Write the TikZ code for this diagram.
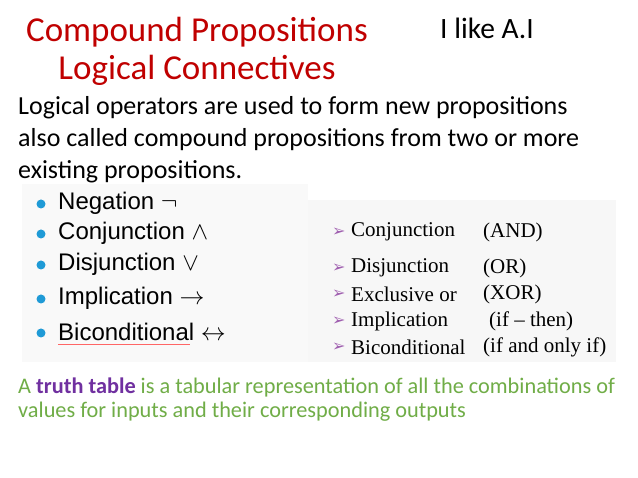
\documentclass[tikz,border=0pt]{standalone}
\usepackage{fontspec}
\setmainfont{Carlito}
\newfontfamily\arialf{Liberation Sans}
\newfontfamily\timesf{Liberation Serif}
\newfontfamily\dejavuf{DejaVu Sans}
\definecolor{tred}{HTML}{C00000}
\definecolor{tgreen}{HTML}{70AD47}
\definecolor{tpurple}{HTML}{7030A0}
\definecolor{bdot}{HTML}{1F9AD6}
\definecolor{arr}{HTML}{A060B0}
\begin{document}
\begin{tikzpicture}[x=1pt,y=-1pt,
 ttl/.style={text=tred,font=\fontsize{35}{37}\selectfont},
 body/.style={anchor=west,inner sep=0,font=\fontsize{26}{28}\selectfont},
 bul/.style={anchor=west,inner sep=0,font=\arialf\fontsize{24}{26}\selectfont},
 rt/.style={anchor=west,inner sep=0,font=\timesf\fontsize{21}{23}\selectfont},
 gr/.style={anchor=west,inner sep=0,text=tgreen,font=\fontsize{22.3}{24}\selectfont}]
\useasboundingbox (0,0) rectangle (638,478);
\fill[white] (0,0) rectangle (638,478);
\fill[gray!5] (22,184) rectangle (308,362);
\fill[gray!6] (308,200) rectangle (616,362);
\node[ttl] (t1) at (197,32) {Compound Propositions};
\node[ttl] (t2) at (197,70) {Logical Connectives};
\node[font=\fontsize{29.5}{31}\selectfont] (ai) at (487,28) {I like A.I};
\node[body] (b1) at (18,108) {Logical operators are used to form new propositions};
\node[body] (b2) at (18,140) {also called compound propositions from two or more};
\node[body] (b3) at (18,172) {existing propositions.};
\foreach \y/\t [count=\i] in {203/{Negation $\neg$},233/{Conjunction $\wedge$},264/{Disjunction $\vee$},298/{Implication $\rightarrow$},332/{Biconditional $\leftrightarrow$}}{
 \fill[bdot] (41,\y+1) circle (4.5);
 \node[bul] (l\i) at (58,\y) {\t};
}
\draw[red!60,line width=0.6pt] (58,344) -- (190,344);
\foreach \y/\a/\b/\bx [count=\i] in {232/Conjunction/(AND)/483,268/Disjunction/(OR)/483,294/Exclusive or/(XOR)/483,321/Implication/(if – then)/489,347/Biconditional/(if and only if)/483}{
 \node[anchor=west,inner sep=0,text=arr,font=\dejavuf\fontsize{16}{16}\selectfont] (m\i) at (332,\y) {➢};
 \node[rt] (r\i) at (351,\y) {\a};
 \node[rt] (s\i) at (\bx,\y) {\b};
}
\node[gr] (g1) at (18,387) {A \textbf{\textcolor{tpurple}{truth table}} is a tabular representation of all the combinations of};
\node[gr] (g2) at (18,412) {values for inputs and their corresponding outputs};
\end{tikzpicture}
\end{document}
